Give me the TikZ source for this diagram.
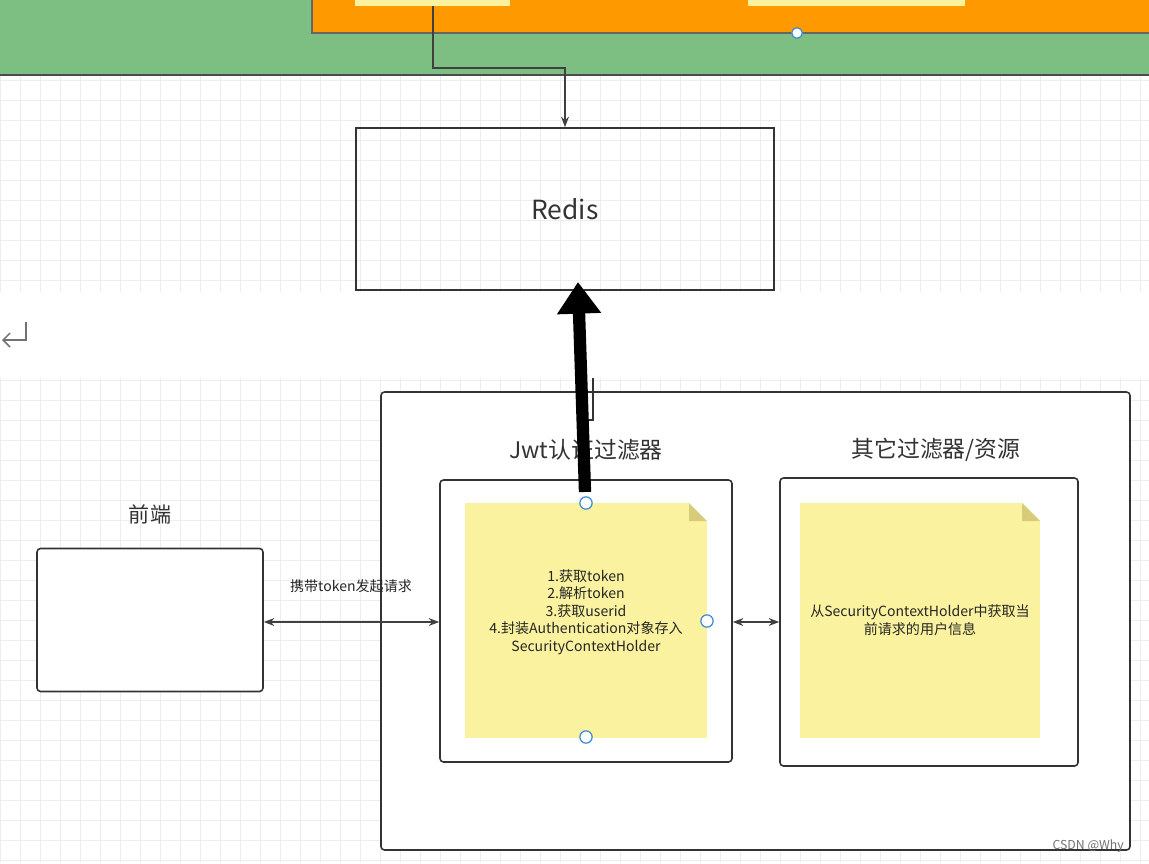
\documentclass[tikz,border=0pt]{standalone}
\usepackage{fontspec}
\setmainfont{Noto Sans CJK SC}
\usepackage{xcolor}
\usepackage{tikz}
\usetikzlibrary{positioning,calc,arrows.meta}

\definecolor{bggreen}{HTML}{7DBE82}
\definecolor{boxorange}{HTML}{FF9900}
\definecolor{notey}{HTML}{FAF29E}
\definecolor{notefold}{HTML}{D6CC7A}
\definecolor{handle}{HTML}{3D8BD6}

\tikzset{
  panel/.style={draw=black!80, line width=0.9pt, rounded corners=2pt, fill=white},
  title/.style={font=\fontsize{13}{13}\selectfont, text=black!80},
  small/.style={font=\fontsize{8}{10}\selectfont, text=black!85, align=center},
  link/.style={draw=black!75, line width=0.8pt, {Stealth[length=6pt]}-{Stealth[length=6pt]}},
  dot/.style={circle, draw=handle, fill=white, inner sep=0pt, minimum size=7pt, line width=0.7pt}
}
\newcommand{\note}[2]{% lower left, upper right
  \fill[notey] (#1) rectangle (#2);
  \fill[white] ($(#2)+(-18,0)$) -- (#2) -- ($(#2)+(0,18)$) -- cycle;
  \fill[notefold] ($(#2)+(-18,0)$) -- ($(#2)+(-18,18)$) -- ($(#2)+(0,18)$) -- cycle;
}

\begin{document}
\begin{tikzpicture}[x=0.02cm, y=-0.02cm]
  \useasboundingbox (0,0) rectangle (1149,863);
  % grid
  \begin{scope}
    \clip (0,75) rectangle (1149,863);
    \foreach \gx in {0,20,...,1140} \draw[black!7, line width=0.4pt] (\gx,75) -- (\gx,863);
    \foreach \gy in {80,100,...,860} \draw[black!7, line width=0.4pt] (0,\gy) -- (1149,\gy);
  \end{scope}
  \fill[white] (0,292) rectangle (1149,378);
  % top area
  \fill[bggreen] (0,0) rectangle (1149,75);
  \draw[black!70, line width=1.2pt] (0,75) -- (1149,75);
  \filldraw[fill=boxorange, draw=black!60, line width=0.8pt] (312,-2) rectangle (1151,33);
  \fill[notey] (355,0) rectangle (510,6);
  \fill[notey] (748,0) rectangle (965,6);
  \node[dot, minimum size=6pt] (anchorTop) at (797,33) {};
  \coordinate (srcTop) at (433,6);
  % redis
  \node[draw=black!80, line width=0.9pt, minimum width=418*0.02cm, minimum height=162*0.02cm,
        font=\fontsize{15}{15}\selectfont, text=black!80] (redis) at (565,209) {Redis};
  \draw[black!75, line width=0.8pt, -{Stealth[length=6pt]}] (srcTop) |- (565,68) -- (redis.north);
  % return mark
  \draw[black!55, line width=0.9pt, -{Straight Barb[length=4pt]}] (26,322) -- (26,340) -- (2,340);
  % outer panel
  \draw[panel] (381,392) rectangle (1130,850);
  \draw[black!80, line width=0.8pt] (593,378) -- (593,420) -- (586,420);
  \node[title] (jwtTitle) at (586,450) {Jwt认证过滤器};
  \node[title] (otherTitle) at (936,450) {其它过滤器/资源};
  \node[panel, minimum width=292*0.02cm, minimum height=282*0.02cm] (jwtBox) at (586,621) {};
  \node[panel, minimum width=298*0.02cm, minimum height=288*0.02cm] (otherBox) at (929,622) {};
  \note{465,738}{707,503}
  \note{800,738}{1040,503}
  \node[small] (jwtText) at (586,612) {1.获取token\\2.解析token\\3.获取userid\\4.封装Authentication对象存入\\SecurityContextHolder};
  \node[small] (otherText) at (920,620) {从SecurityContextHolder中获取当\\前请求的用户信息};
  % front end
  \node[title, font=\fontsize{12}{12}\selectfont] (feTitle) at (150,514) {前端};
  \node[panel, minimum width=226*0.02cm, minimum height=143*0.02cm] (fe) at (150,620) {};
  \node[small] (reqLabel) at (351,586) {携带token发起请求};
  \draw[link] (fe.east |- 0,622) -- (jwtBox.west |- 0,622);
  \draw[link] (jwtBox.east |- 0,622) -- (otherBox.west |- 0,622);
  % thick arrow to redis
  \coordinate (thickStart) at (585,492);
  \draw[black, line width=7pt, -{Triangle[length=18pt, width=24pt]}] (thickStart) -- (578,282);
  \node[dot] (h1) at (586,503) {};
  \node[dot] (h2) at (707,621) {};
  \node[dot] (h3) at (586,737) {};
  \node[text=black!55, font=\fontsize{7}{7}\selectfont, anchor=east] (mark) at (1130,846) {CSDN @Why};
\end{tikzpicture}
\end{document}
